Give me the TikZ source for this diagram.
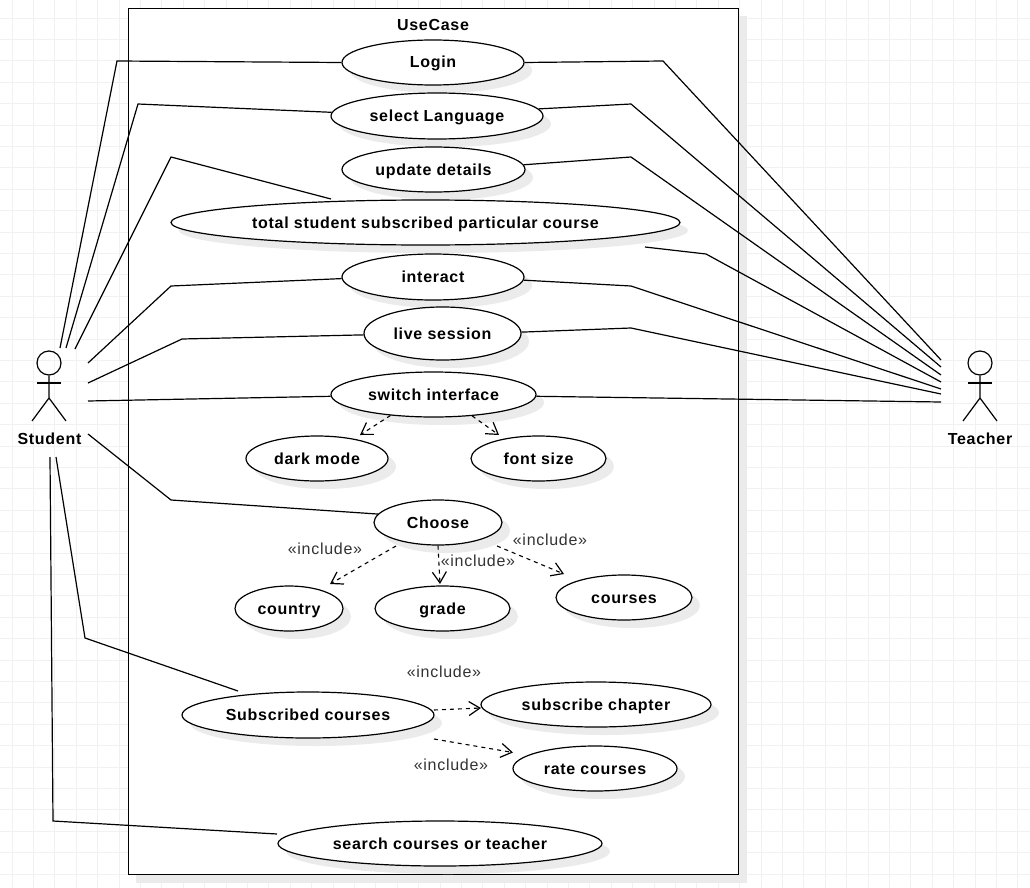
\documentclass[tikz,border=0pt]{standalone}
\usepackage{fontspec}
\setmainfont[LetterSpace=4.5]{Liberation Sans}
\usetikzlibrary{arrows.meta,shapes.geometric,shadows,calc}
\definecolor{gridline}{HTML}{F1F1F1}
\definecolor{shadowgray}{HTML}{EBEBEB}
\definecolor{labelgray}{HTML}{333333}
\tikzset{
    outline/.style={line width=1.2pt, black},
    casebox/.style n args={2}{ellipse, draw, outline, fill=white, inner sep=0pt,
        minimum width=#1pt, minimum height=#2pt, text height=14pt, text depth=3pt,
        font=\fontsize{16}{18}\selectfont\bfseries,
        drop shadow={shadow xshift=8pt, shadow yshift=-8pt, fill=shadowgray, opacity=1}},
    includelabel/.style={text=labelgray, inner sep=0pt, font=\fontsize{16}{18}\selectfont},
    actorlabel/.style={inner sep=0pt, font=\fontsize{16}{18}\selectfont\bfseries},
    assoc/.style={outline},
    incl/.style={line width=1.1pt, black, dash pattern=on 4pt off 4pt, -{Straight Barb[length=11pt,width=14pt,line width=1.2pt]}},
}
\begin{document}
\begin{tikzpicture}[x=1pt, y=-1pt]
\useasboundingbox (0,0) rectangle (1030,888);
% grid
\foreach \i in {0,...,47} \draw[gridline, line width=0.8pt] ({12+21.4*\i},0) -- ({12+21.4*\i},888);
\foreach \i in {0,...,41} \draw[gridline, line width=0.8pt] (0,{18+21.4*\i}) -- (1030,{18+21.4*\i});
% system box
\fill[shadowgray] (136,16) rectangle (747,883);
\node[draw, outline, line width=1.1pt, fill=white, inner sep=0pt, minimum width=610pt, minimum height=866pt] (system) at (433.5,441.5) {};
\node[actorlabel] (title) at (433,25) {UseCase};
% use cases
\node[casebox={182}{45}] (login) at (433,62.5) {Login};
\node[casebox={212}{46}] (language) at (437,116) {select Language};
\node[casebox={183}{45}] (details) at (433.5,169.5) {update details};
\node[casebox={509}{45}] (total) at (425.5,222.5) {total student subscribed particular course};
\node[casebox={182}{46}] (interact) at (433,277) {interact};
\node[casebox={157}{53}] (live) at (442.5,333.5) {live session};
\node[casebox={205}{45}] (switch) at (433.5,394.5) {switch interface};
\node[casebox={142}{45}] (dark) at (317,458.5) {dark mode};
\node[casebox={135}{45}] (fontsize) at (538.5,458.5) {font size};
\node[casebox={128}{45}] (choose) at (438,522.5) {Choose};
\node[casebox={108}{45}] (country) at (289,608.5) {country};
\node[casebox={135}{45}] (grade) at (442.5,608.5) {grade};
\node[casebox={136}{45}] (courses) at (624,597.5) {courses};
\node[casebox={252}{46}] (subscribed) at (308,715) {Subscribed courses};
\node[casebox={230}{45}] (chapter) at (596,704.5) {subscribe chapter};
\node[casebox={164}{45}] (rate) at (595,768.5) {rate courses};
\node[casebox={324}{45}] (search) at (440,843.5) {search courses or teacher};
% actors
\foreach \name/\cx in {student/49, teacher/980} {
    \node[circle, draw, outline, inner sep=0pt, minimum size=24pt] (\name head) at (\cx,363) {};
    \draw[outline] (\name head.south) -- (\cx,398) -- (\cx-17,421);
    \draw[outline] (\cx,398) -- (\cx+17,421);
    \draw[outline] (\cx-12,383) -- (\cx+12,383);
}
\node[actorlabel] (student) at (49.5,439) {Student};
\node[actorlabel] (teacher) at (980,439) {Teacher};
% free ends
\coordinate (s1) at (60,348);
\coordinate (s2) at (66,348);
\coordinate (s3) at (75,349);
\coordinate (s4) at (88,363);
\coordinate (s5) at (88,383);
\coordinate (s6) at (88,401);
\coordinate (s7) at (88,434);
\coordinate (s8) at (56,457);
\coordinate (s9) at (50,457);
\coordinate (t1) at (941,360);
\coordinate (t2) at (941,367);
\coordinate (t3) at (941,375);
\coordinate (t4) at (941,382);
\coordinate (t5) at (941,389);
\coordinate (t6) at (941,394);
\coordinate (t7) at (941,402);
\coordinate (totalleft) at (331,199);
\coordinate (totalright) at (645,247);
\coordinate (subscribedtop) at (238,691);
\coordinate (searchleft) at (277,834);
% student side
\draw[assoc] (s1) -- (117,61) -- (login.west);
\draw[assoc] (s2) -- (138,104) -- (language.178);
\draw[assoc] (s3) -- (171,157) -- (totalleft);
\draw[assoc] (s4) -- (171,286) -- (interact.181);
\draw[assoc] (s5) -- (182,339) -- (live.181);
\draw[assoc] (s6) -- (switch.181);
\draw[assoc] (s7) -- (171,500) -- (choose.172);
\draw[assoc] (s8) -- (85,638) -- (subscribedtop);
\draw[assoc] (s9) -- (53,821) -- (searchleft);
% teacher side
\draw[assoc] (login.east) -- (663,61) -- (t1);
\draw[assoc] (language.4) -- (631,104) -- (t2);
\draw[assoc] (details.3.4) -- (631,157) -- (t3);
\draw[assoc] (totalright) -- (706,254) -- (t4);
\draw[assoc] (interact.-2.5) -- (631,286) -- (t5);
\draw[assoc] (live.1.8) -- (631,328) -- (t6);
\draw[assoc] (switch.-1) -- (t7);
% includes
\draw[incl] (switch.206) -- ($(dark)+(43,-23.5)$);
\draw[incl] (switch.331) -- ($(fontsize)+(-39.5,-23.5)$);
\draw[incl] ($(choose)+(-42,23.5)$) -- ($(country)+(41,-24.5)$);
\draw[incl] (choose.south) -- ($(grade)+(-2.5,-24.5)$);
\draw[incl] ($(choose)+(59,23.5)$) -- ($(courses)+(-60,-23.5)$);
\draw[incl] ($(subscribed)+(126,-5)$) -- ($(chapter)+(-115,3.5)$);
\draw[incl] ($(subscribed)+(126,24)$) -- ($(rate)+(-82,-16)$);
% labels
\node[includelabel] (inclcountry) at (325,549) {«include»};
\node[includelabel] (inclgrade) at (478,561) {«include»};
\node[includelabel] (inclcourses) at (550,540) {«include»};
\node[includelabel] (inclchapter) at (444,672) {«include»};
\node[includelabel] (inclrate) at (451,765) {«include»};
\end{tikzpicture}
\end{document}
